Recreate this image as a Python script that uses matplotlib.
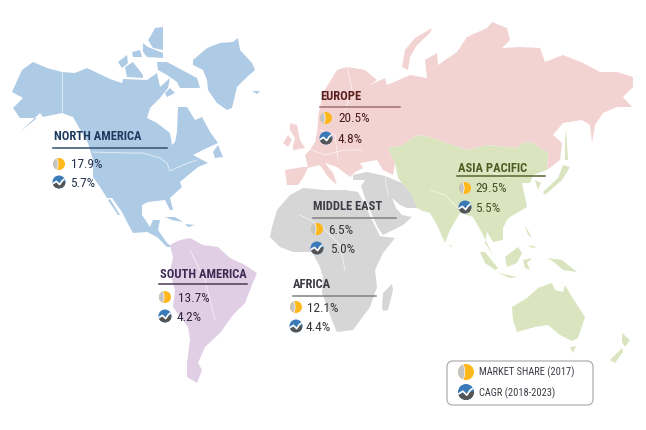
import matplotlib
matplotlib.use("Agg")
import matplotlib.pyplot as plt
from matplotlib import font_manager
from matplotlib.patches import Polygon, Circle, Ellipse, FancyBboxPatch

# narrow face if one is there
installed = {f.name for f in font_manager.fontManager.ttflist}
narrow = [n for n in ['Liberation Sans Narrow', 'Roboto Condensed', 'Open Sans Condensed', 'Noto Sans Condensed',
                      'Lato Condensed'] if n in installed]
face = narrow[0] if narrow else 'Lato'
plt.rcParams['font.family'] = [face, 'Liberation Sans', 'DejaVu Sans']

regions = ["NORTH AMERICA", "EUROPE", "ASIA PACIFIC", "MIDDLE EAST", "AFRICA", "SOUTH AMERICA"]
market_share = [17.9, 20.5, 29.5, 6.5, 12.1, 13.7]
cagr = [5.7, 4.8, 5.5, 5.0, 4.4, 4.2]
legend_labels = ["MARKET SHARE (2017)", "CAGR (2018-2023)"]

# map outlines, in picture pixels
north_america = [
    [(12,92),(22,70),(33,62),(47,68),(62,72),(75,73),(87,68),(110,79),(122,83),(123,79),(147,80),(157,73),
     (160,87),(170,78),(168,88),(160,98),(150,108),(147,118),(157,123),(170,133),(172,145),(175,142),(177,132),
     (178,107),(187,107),(195,120),(202,117),(210,132),(218,143),(207,148),(193,155),(208,163),(198,167),
     (192,172),(180,182),(182,187),(170,198),(173,210),(170,210),(165,200),(148,202),(142,205),(142,215),
     (150,227),(153,220),(160,220),(158,230),(167,243),(172,247),(167,247),(157,237),(147,232),(133,233),
     (127,222),(122,212),(112,198),(107,198),(100,187),(93,177),(93,160),(88,143),(73,117),(62,113),(43,117),
     (40,113),(20,132),(37,118),(20,118),(13,108),(23,98)],
    [(110,199),(120,215),(118,215),(108,200)],
    [(157,62),(167,62),(182,70),(197,78),(200,88),(190,88),(180,88),(177,82),(167,75),(158,70)],
    [(150,37),(155,28),(163,27),(163,40),(163,50),(153,48),(148,40)],
    [(125,67),(133,62),(143,75),(143,78),(127,77)],
    [(118,62),(127,55),(128,63),(122,68)],
    [(132,52),(140,50),(142,57),(133,57)],
    [(143,43),(148,47),(163,53),(163,58),(147,57),(143,52)],
    [(165,93),(170,88),(175,93),(167,97)],
    [(213,152),(218,145),(223,157),(215,158)],
    [(193,60),(207,48),(220,43),(233,42),(238,38),(240,50),(252,63),(255,70),(247,77),(237,87),(232,108),
     (227,110),(217,103),(208,90),(207,80),(203,70),(193,65)],
    [(252,91),(260,91),(257,94)],
    [(165,217),(175,217),(183,222),(172,220)],
    [(185,224),(195,225),(188,227)],
]
south_america = [
    [(170,245),(180,240),(190,238),(203,245),(218,247),(230,258),(245,265),(257,273),(252,285),(245,303),
     (233,315),(220,333),(205,347),(198,363),(202,370),(197,383),(187,377),(187,363),(190,340),(188,327),
     (173,307),(175,290),(170,273),(173,257)],
]
europe_russia = [
    [(287,185),(285,170),(303,167),(308,167),(305,155),(310,150),(315,142),(317,133),(318,123),(318,117),
     (323,93),(337,70),(347,67),(365,70),(377,80),(370,85),(385,78),(387,85),(410,75),(427,78),(425,60),
     (437,53),(438,65),(457,52),(467,37),(487,28),(492,22),(507,28),(510,40),(502,48),(520,47),(540,48),
     (545,62),(563,55),(583,63),(600,72),(617,72),(633,77),(633,87),(623,97),(632,107),(617,107),(603,113),
     (595,125),(592,143),(590,125),(582,120),(563,123),(553,135),(562,143),(560,160),(547,170),(548,153),
     (533,143),(523,142),(517,148),(487,145),(467,150),(447,143),(430,137),(417,135),(403,145),(388,148),
     (395,163),(393,175),(383,170),(377,160),(360,163),(363,168),(355,172),(350,177),(337,167),(325,163),
     (333,173),(337,185),(328,177),(320,165),(308,168),(303,178),(298,185)],
    [(283,143),(288,135),(292,140),(288,147)],
    [(290,123),(297,125),(300,140),(305,148),(293,150),(293,145),(295,138),(290,130)],
    [(402,67),(405,50),(415,38),(432,28),(430,33),(417,45),(410,57),(408,70)],
]
asia_pacific = [
    [(388,148),(403,145),(417,135),(430,137),(447,143),(467,150),(487,145),(517,148),(523,142),(533,143),
     (548,153),(547,170),(533,175),(530,183),(522,183),(527,207),(510,217),(507,220),(503,228),(503,240),
     (493,242),(487,232),(485,243),(493,255),(482,233),(473,217),(460,213),(450,230),(445,243),(437,225),
     (430,213),(423,211),(417,208),(412,195),(402,183),(398,178),(395,163)],
    [(565,138),(566,130),(568,160),(565,160)],
    [(563,165),(570,167),(562,180),(545,195),(543,192),(558,178)],
    [(535,180),(541,183),(538,190)],
    [(480,252),(485,252),(498,268),(495,270),(485,263)],
    [(498,273),(517,277),(510,278)],
    [(505,257),(518,247),(522,253),(517,263),(507,267)],
    [(523,260),(532,258),(527,263),(530,270),(525,268)],
    [(548,258),(562,260),(577,272),(563,270),(555,263)],
    [(525,225),(532,238),(528,235)],
    [(528,245),(537,247),(532,248)],
    [(449,245),(453,246),(451,247)],
    [(512,307),(527,298),(538,288),(552,283),(555,290),(563,292),(565,285),(572,297),(585,317),(578,338),
     (572,341),(560,335),(548,325),(535,327),(517,332),(513,320)],
    [(570,347),(576,346),(573,353)],
    [(622,333),(630,340),(625,347),(622,342)],
    [(622,348),(610,360),(615,363),(623,352)],
]
africa_me = [
    [(272,227),(277,210),(290,195),(303,188),(325,190),(345,190),(358,192),(364,203),(372,220),(380,236),
     (395,238),(383,253),(375,270),(377,287),(370,307),(353,330),(337,332),(333,323),(322,293),(323,278),
     (320,267),(312,252),(293,252),(280,247),(270,237)],
    [(382,307),(383,293),(392,284),(393,290),(388,310),(383,311)],
    [(353,175),(367,172),(385,176),(402,183),(412,195),(417,208),(407,208),(400,205),(392,198),(396,208),
     (402,215),(412,217),(403,225),(383,235),(378,228),(372,215),(365,198),(361,186),(365,180),(353,180)],
]
# thin white lines for country borders
borders = [
    [(93,152),(130,153),(143,153),(160,158),(167,163),(170,171),(183,165),(197,160)],
    [(62,72),(62,113)],
    [(470,170),(490,172),(510,178)],
    [(430,190),(445,195),(460,210)],
    [(312,150),(325,155),(345,150),(362,150)],
    [(320,130),(335,135),(338,160)],
    [(347,67),(352,90),(345,110)],
    [(300,215),(320,225),(340,245),(345,270)],
    [(385,178),(388,195)],
    [(190,250),(205,280),(215,320)],
]

fig = plt.figure(figsize=(6.46, 4.30), dpi=100)
ax = fig.add_axes([0, 0, 1, 1])
ax.set_xlim(0, 646)
ax.set_ylim(430, 0)
ax.axis('off')

for shapes, color in [(north_america, '#aecbe6'), (south_america, '#e0cfe4'), (europe_russia, '#f3d3d2'),
                      (asia_pacific, '#dae5bf'), (africa_me, '#d6d6d6')]:
    for s in shapes:
        ax.add_patch(Polygon(s, closed=True, fc=color, ec='none', zorder=1))

for b in borders:
    ax.plot([p[0] for p in b], [p[1] for p in b], color='white', lw=0.5, alpha=0.8, zorder=2)


def share_icon(x, y, r=6):
    disc = Circle((x, y), r, fc='#ffb81c', ec='none', zorder=4)
    ax.add_patch(disc)
    lens = Ellipse((x - r * 0.7, y), r * 1.1, r * 2.4, fc='#c4c4c4', ec='white', lw=0.5, zorder=5)
    ax.add_patch(lens)
    lens.set_clip_path(disc)


def cagr_icon(x, y, r=6.5):
    disc = Circle((x, y), r, fc='#3a7ab8', ec='none', zorder=4)
    ax.add_patch(disc)
    low = Polygon([(x - r, y + r * 0.3), (x, y + r * 0.1), (x + r, y - r * 0.1), (x + r, y + r), (x - r, y + r)],
                  closed=True, fc='#555555', ec='none', zorder=5)
    ax.add_patch(low)
    low.set_clip_path(disc)
    ln, = ax.plot([x - r, x - r * 0.4, x + r * 0.1, x + r * 0.5, x + r],
                  [y + r * 0.3, y - r * 0.1, y + r * 0.4, y - r * 0.2, y - r * 0.6],
                  color='white', lw=1.2, zorder=6)
    ln.set_clip_path(disc)


label_x = [54, 320, 458, 313, 293, 160]
label_y = [137, 97, 168, 207, 285, 275]
rule_x = [(53, 167), (320, 400), (457, 545), (313, 396), (293, 376), (159, 247)]
rule_y = [148, 107, 176, 218, 296, 284]
title_colors = ['#1f3a5f', '#5a1f1f', '#4d5c22', '#3c3c46', '#3c3c46', '#3d2a55']
rule_colors = ['#34506f', '#a0706e', '#55662f', '#808080', '#808080', '#4a3a55']
value_colors = ['#22304a', '#4a1c1c', '#44522a', '#333338', '#333338', '#2f2540']
share_pos = [(59, 164, 71), (326, 118, 338), (465, 188, 475), (317, 229, 328), (296, 307, 307), (165, 297, 178)]
cagr_pos = [(59, 182, 70), (326, 138, 338), (465, 207, 475), (317, 248, 330), (296, 326, 306), (165, 316, 177)]

title_size = 9 if narrow else 8
value_size = 9.5 if narrow else 8.5
legend_size = 7.5 if narrow else 6.6

for i, name in enumerate(regions):
    ax.text(label_x[i], label_y[i], name, fontsize=title_size, fontweight='bold', color=title_colors[i],
            va='center', ha='left', zorder=7)
    ax.plot(rule_x[i], [rule_y[i], rule_y[i]], color=rule_colors[i], lw=1.1, zorder=7)
    x, y, tx = share_pos[i]
    share_icon(x, y)
    ax.text(tx, y + 1, f"{market_share[i]}%", fontsize=value_size, color=value_colors[i], va='center', zorder=7)
    x, y, tx = cagr_pos[i]
    cagr_icon(x, y)
    ax.text(tx, y + 1.5, f"{cagr[i]}%", fontsize=value_size, color=value_colors[i], va='center', zorder=7)

# legend box
ax.add_patch(FancyBboxPatch((447, 361), 146, 44, boxstyle="round,pad=0,rounding_size=6", fc='white',
                            ec='#a6a6a6', lw=0.8, zorder=3))
share_icon(466, 372, 8)
cagr_icon(466, 392, 8)
ax.text(479, 372, legend_labels[0], fontsize=legend_size, color='#3c3c46', va='center', zorder=7)
ax.text(479, 393, legend_labels[1], fontsize=legend_size, color='#3c3c46', va='center', zorder=7)

fig.savefig('out.png', dpi=100)
